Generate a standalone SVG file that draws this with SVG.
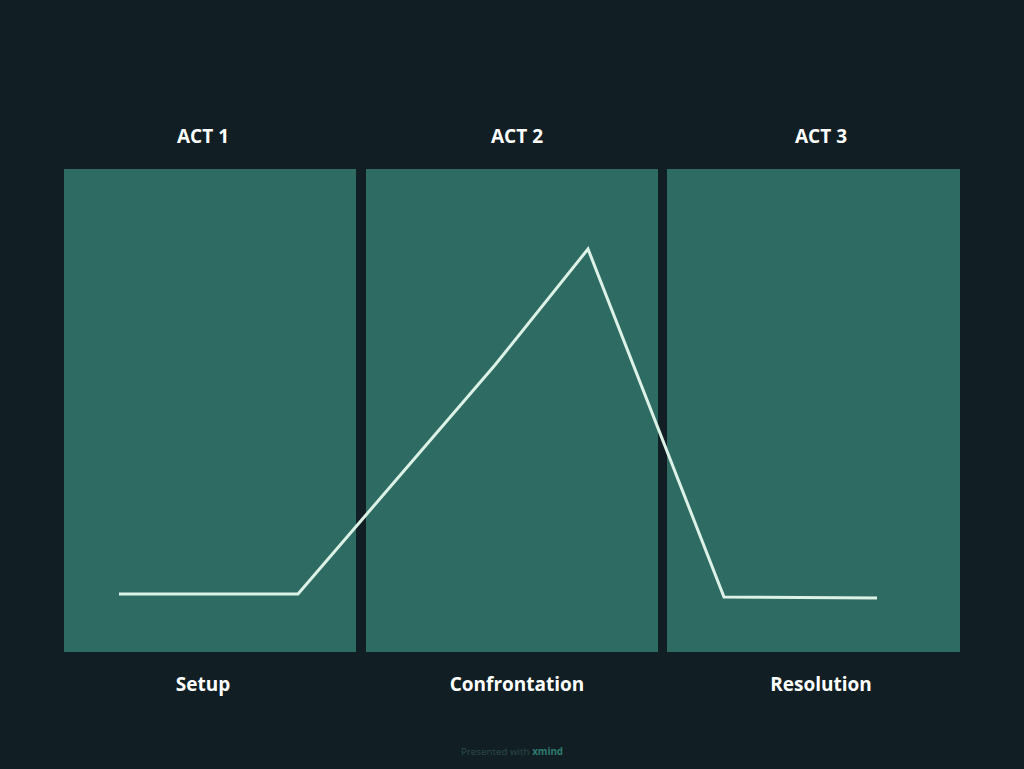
<svg xmlns="http://www.w3.org/2000/svg" width="1024" height="769" viewBox="0 0 1024 769">
<style>
.bg{fill:#111f24}
.panel{fill:#2e6b63}
.t{font-family:"Open Sans","Liberation Sans",sans-serif;font-weight:700;font-size:19px;fill:#ffffff;text-anchor:middle}
.curve{fill:none;stroke:#dcf2e6;stroke-width:3;stroke-linejoin:miter}
.foot{font-family:"Open Sans","Liberation Sans",sans-serif;font-size:9.8px;fill:#2c4b4b;text-anchor:middle}
</style>
<rect class="bg" x="0" y="0" width="1024" height="769"/>
<g id="act1">
<text class="t" x="203" y="143">ACT 1</text>
<rect class="panel" x="64" y="169" width="292" height="483"/>
<text class="t" x="203" y="691">Setup</text>
</g>
<g id="act2">
<text class="t" x="517" y="143">ACT 2</text>
<rect class="panel" x="366" y="169" width="292" height="483"/>
<text class="t" x="517" y="691">Confrontation</text>
</g>
<g id="act3">
<text class="t" x="821" y="143">ACT 3</text>
<rect class="panel" x="667" y="169" width="293" height="483"/>
<text class="t" x="821" y="691">Resolution</text>
</g>
<g id="connectors">
<polyline class="curve" points="119,594 298,594 495,365 588,249 724,597 877,598"/>
</g>
<text class="foot" x="512" y="755">Presented with <tspan font-weight="700" fill="#2f7a6e">xmind</tspan></text>
</svg>
